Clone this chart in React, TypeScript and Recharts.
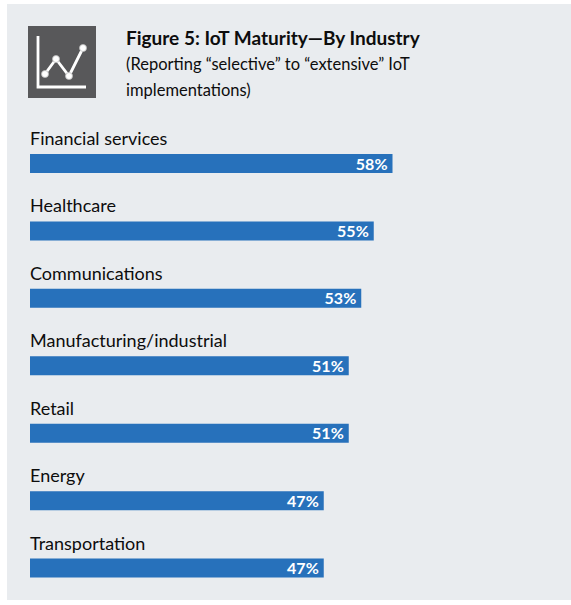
import { Bar, BarChart, LabelList, XAxis, YAxis } from "recharts";

const industries = [
  "Financial services",
  "Healthcare",
  "Communications",
  "Manufacturing/industrial",
  "Retail",
  "Energy",
  "Transportation",
];
const maturity = [58, 55, 53, 51, 51, 47, 47];

const data = industries.map((name, i) => ({ name, value: maturity[i] }));

const FONT = "Lato, 'Open Sans', sans-serif";
const BLUE = "#2771bb";

function NameLabel(props: any) {
  const { x, y, value } = props;
  return (
    <text x={x} y={y - 9} fill="#0d0d0d" fontSize={18} fontFamily={FONT}>
      {value}
    </text>
  );
}

function ValueLabel(props: any) {
  const { x, y, width, height, value } = props;
  return (
    <text
      x={x + width - 5}
      y={y + height / 2 + 6}
      fill="#fff"
      fontSize={16}
      fontWeight={700}
      fontFamily={FONT}
      textAnchor="end"
    >
      {value}%
    </text>
  );
}

function Icon() {
  const pts = [[17, 48], [28, 33], [41, 50], [55, 22]];
  return (
    <svg width={68} height={72} style={{ position: "absolute", left: 28, top: 26 }}>
      <rect width={68} height={72} fill="#58585a" />
      <polyline points="10,10 10,61 58,61" fill="none" stroke="#fff" strokeWidth={2.8} />
      <polyline points={pts.map((p) => p.join(",")).join(" ")} fill="none" stroke="#fff" strokeWidth={2.8} />
      {pts.map(([cx, cy], i) => (
        <circle key={i} cx={cx} cy={cy} r={3.5} fill="#fff" stroke="#bbb" strokeWidth={0.8} />
      ))}
    </svg>
  );
}

export default function App() {
  return (
    <div style={{ position: "absolute", left: 0, top: 0, width: 571, height: 605, background: "#fff", fontFamily: FONT }}>
      <div style={{ position: "absolute", left: 7, top: 4, width: 564, height: 596, background: "#e9ecef" }} />
      <Icon />
      <div style={{ position: "absolute", left: 126, top: 25, lineHeight: "26px", color: "#0d0d0d" }}>
        <div style={{ fontSize: 19, fontWeight: 700 }}>Figure 5: IoT Maturity—By Industry</div>
        <div style={{ fontSize: 16.5 }}>
          (Reporting “selective” to “extensive” IoT
          <br />
          implementations)
        </div>
      </div>
      <div style={{ position: "absolute", left: 0, top: 0 }}>
        <BarChart
          width={571}
          height={605}
          data={data}
          layout="vertical"
          margin={{ top: 130, right: 41, bottom: 3, left: 30 }}
        >
          <XAxis type="number" domain={[0, 80]} hide />
          <YAxis type="category" dataKey="name" hide />
          <Bar dataKey="value" fill={BLUE} barSize={19} isAnimationActive={false}>
            <LabelList dataKey="name" content={<NameLabel />} />
            <LabelList dataKey="value" content={<ValueLabel />} />
          </Bar>
        </BarChart>
      </div>
    </div>
  );
}
